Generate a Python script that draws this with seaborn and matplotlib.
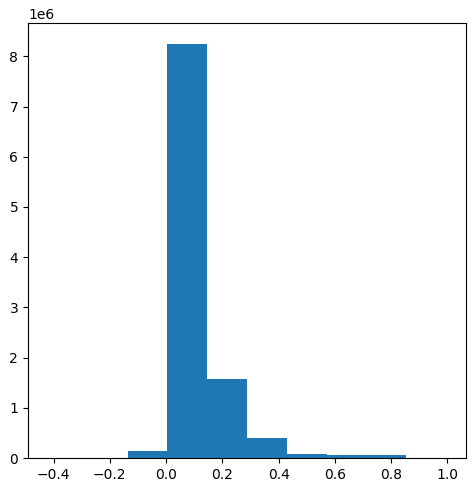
import matplotlib
matplotlib.use("Agg")
import matplotlib.pyplot as plt
import seaborn as sns
import numpy as np
import pandas as pd

# histogram: 10 equal bins between the data min and max
data_min = -0.42
data_max = 0.995
n_bins = 10
bin_counts = [3000, 6000, 140000, 8250000, 1575000, 400000, 85000, 60000, 60000, 4000]

bin_edges = np.linspace(data_min, data_max, n_bins + 1)
bin_centers = (bin_edges[:-1] + bin_edges[1:]) / 2
df = pd.DataFrame({"value": bin_centers, "count": bin_counts})

fig, ax = plt.subplots(figsize=(4.74, 4.9), dpi=100)
sns.histplot(data=df, x="value", weights="count", bins=list(bin_edges), ax=ax,
             color="#1f77b4", alpha=1, linewidth=0)
ax.set_ylabel("")
ax.set_xlabel("")
ax.margins(x=0.05)
fig.subplots_adjust(left=0.059, right=0.983, top=0.953, bottom=0.065)
plt.savefig("out.png", dpi=100)
